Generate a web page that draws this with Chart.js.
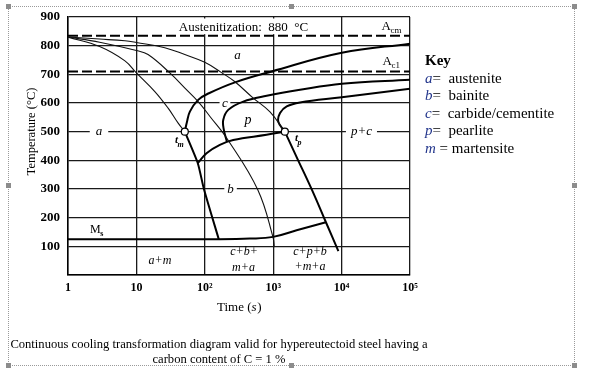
<!DOCTYPE html>
<html><head><meta charset="utf-8">
<script src="https://cdn.jsdelivr.net/npm/chart.js@4.4.1/dist/chart.umd.min.js"></script>
<style>
html,body{margin:0;padding:0;background:#fff;}
#wrap{position:relative;width:590px;height:373px;overflow:hidden;font-family:"Liberation Serif","Times New Roman",serif;color:#000;}
#c{position:absolute;left:0;top:0;}
#frame{position:absolute;left:8px;top:6px;width:567px;height:360px;border:1px dotted #9a9a9a;box-sizing:border-box;}
.h{position:absolute;width:5px;height:5px;background:#8c8c8c;}
#key{position:absolute;left:425px;top:52px;font-size:15px;line-height:17.5px;white-space:nowrap;}
#key i{color:#23368c;}
#cap{position:absolute;left:8px;top:337px;width:422px;text-align:center;font-size:12.6px;line-height:15px;white-space:nowrap;}
</style></head>
<body>
<div id="wrap">
<canvas id="c" width="590" height="373"></canvas>
<div id="frame"></div>
<div class="h" style="left:6px;top:4px"></div>
<div class="h" style="left:289px;top:4px"></div>
<div class="h" style="left:572px;top:4px"></div>
<div class="h" style="left:6px;top:183px"></div>
<div class="h" style="left:572px;top:183px"></div>
<div class="h" style="left:6px;top:363px"></div>
<div class="h" style="left:289px;top:363px"></div>
<div class="h" style="left:572px;top:363px"></div>
<div id="key"><b>Key</b><br><i>a</i>=&nbsp; austenite<br><i>b</i>=&nbsp; bainite<br><i>c</i>=&nbsp; carbide/cementite<br><i>p</i>=&nbsp; pearlite<br><i>m</i> = martensite</div>
<div id="cap">Continuous cooling transformation diagram valid for hypereutectoid steel having a<br>carbon content of C = 1 %</div>
</div>
<script>
// ---- axis ticks ----
const xTicks = [1, 10, 100, 1000, 10000, 100000];
const xTickLabels = ['1', '10', '10²', '10³', '10⁴', '10⁵'];
const yMin = 0, yMax = 900, yStep = 100;

// ---- cooling curves: time (s) / temperature (°C) ----
const coolFastTime = [1, 2.9, 6.8, 10, 18.6, 29.1, 40.8, 51];
const coolFastTemp = [830, 797, 747, 705, 640, 582, 530, 500];
const coolMidTime = [1, 2.9, 10, 14.8, 30.8, 51.2, 80, 119, 218, 599, 993, 1038];
const coolMidTemp = [830, 812, 783, 769, 705, 652, 605, 553, 471, 296, 132, 97];
const coolSlowTime = [1, 2.9, 6.8, 10, 26, 51, 100, 176, 276, 506, 898, 1480];
const coolSlowTemp = [830, 823, 817, 811, 793, 769, 742, 706, 674, 618, 569, 500];

// ---- transformation lines ----
const martLineTime = [51, 79, 97, 160];
const martLineTemp = [500, 390, 300, 125];
const pearLineTime = [1480, 2307, 3700, 5900, 8970];
const pearLineTemp = [500, 401, 296, 184, 83];
const msTime = [1, 160, 457, 1000, 2200, 5900];
const msTemp = [125, 125, 127, 133, 156, 184];
const bainiteTime = [79, 106, 166, 260, 800, 1480];
const bainiteTemp = [390, 425, 454, 471, 489, 500];
const carbideTime = [51, 54.7, 60.5, 80, 115, 276, 950, 10070, 100000];
const carbideTemp = [500, 533, 570, 611, 634, 672, 710, 775, 807];
const pearliteStartTime = [211, 190, 186, 220, 365, 803, 2467, 10070, 100000];
const pearliteStartTemp = [464, 506, 541, 576, 605, 625, 646, 667, 681];
const pearliteEndTime = [1480, 1188, 1259, 1577, 2467, 10070, 100000];
const pearliteEndTemp = [500, 535, 565, 588, 602, 620, 650];
const acmTemp = 835, ac1Temp = 710;
const criticalTime = [51, 1480];   // t_m, t_p
const criticalTemp = [500, 500];

function pts(ts, Ts) { return ts.map((t, i) => ({x: t, y: Ts[i]})); }
function hline(T) { return [{x: xTicks[0], y: T}, {x: xTicks[xTicks.length - 1], y: T}]; }

const SERIF = '"Liberation Serif", "Times New Roman", serif';
Chart.defaults.font.family = SERIF;
Chart.defaults.color = '#000';

const thin = {borderColor: '#111', borderWidth: 1.1, pointRadius: 0, showLine: true, fill: false, tension: 0.4};
const thick = {borderColor: '#000', borderWidth: 2, pointRadius: 0, showLine: true, fill: false, tension: 0.4};
const dashed = {borderColor: '#000', borderWidth: 2, pointRadius: 0, showLine: true, fill: false, borderDash: [10, 4], tension: 0};

// annotation text (positions in data units)
const boxLabels = [
  {text: 'a', t: 2.84, T: 500, pad: 6},
  {text: 'c', t: 197, T: 600, pad: 2.5},
  {text: 'b', t: 238, T: 300, pad: 3},
  {text: 'p+c', t: 19500, T: 500, pad: 5}
];
const plainLabels = [
  {text: 'a', t: 301, T: 767, size: 13},
  {text: 'p', t: 428, T: 540, size: 14},
  {text: 'a+m', t: 22.1, T: 52, size: 12},
  {text: 'c+b+', t: 374, T: 84, size: 12},
  {text: 'm+a', t: 368, T: 28, size: 12},
  {text: 'c+p+b', t: 3450, T: 81, size: 12},
  {text: '+m+a', t: 3450, T: 31, size: 12}
];
const subLabels = [
  {main: 't', sub: 'm', t: 36.7, T: 460, mf: 'bold italic 11px ' + SERIF, sf: 'bold italic 8px ' + SERIF, align: 'left', dy: 4},
  {main: 't', sub: 'p', t: 2083, T: 467, mf: 'bold italic 11px ' + SERIF, sf: 'bold italic 8px ' + SERIF, align: 'left', dy: 4},
  {main: 'M', sub: 's', t: 2.1, T: 146.5, mf: '12px ' + SERIF, sf: 'bold 8px ' + SERIF, align: 'left', dy: 3},
  {main: 'A', sub: 'cm', t: 76400, T: 853, mf: '13px ' + SERIF, sf: '9px ' + SERIF, align: 'right', dy: 3},
  {main: 'A', sub: 'c1', t: 72600, T: 732, mf: '13px ' + SERIF, sf: '9px ' + SERIF, align: 'right', dy: 3}
];
const titleText = 'Austenitization:  880  °C';
const titlePos = {t: 368, T: 868};

const annot = {
  id: 'annot',
  beforeDatasetsDraw(chart) {
    const {ctx, scales: {x, y}} = chart;
    ctx.save();
    ctx.font = '13px ' + SERIF;
    const tw = ctx.measureText(titleText).width;
    const tx = x.getPixelForValue(titlePos.t), ty = y.getPixelForValue(titlePos.T);
    ctx.fillStyle = '#fff';
    ctx.fillRect(tx - tw / 2 - 3, y.top + 1.5, tw + 6, ty + 8 - (y.top + 1.5));
    ctx.fillStyle = '#000';
    ctx.textAlign = 'center';
    ctx.textBaseline = 'alphabetic';
    ctx.fillText(titleText, tx, ty + 4.5);
    ctx.font = 'italic 13px ' + SERIF;
    boxLabels.forEach(l => {
      const w = ctx.measureText(l.text).width;
      const px = x.getPixelForValue(l.t), py = y.getPixelForValue(l.T);
      ctx.fillStyle = '#fff';
      ctx.fillRect(px - w / 2 - l.pad, py - 3, w + 2 * l.pad, 6);
      ctx.fillStyle = '#000';
      ctx.fillText(l.text, px, py + 3.5);
    });
    ctx.restore();
  },
  afterDatasetsDraw(chart) {
    const {ctx, scales: {x, y}} = chart;
    ctx.save();
    ctx.fillStyle = '#000';
    ctx.textBaseline = 'alphabetic';
    ctx.textAlign = 'center';
    plainLabels.forEach(l => {
      ctx.font = 'italic ' + l.size + 'px ' + SERIF;
      ctx.fillText(l.text, x.getPixelForValue(l.t), y.getPixelForValue(l.T) + l.size * 0.3);
    });
    ctx.textAlign = 'left';
    subLabels.forEach(l => {
      ctx.font = l.mf;
      const mw = ctx.measureText(l.main).width;
      ctx.font = l.sf;
      const sw = ctx.measureText(l.sub).width;
      let px = x.getPixelForValue(l.t);
      const py = y.getPixelForValue(l.T);
      if (l.align === 'right') px -= (mw + sw);
      ctx.font = l.mf;
      ctx.fillText(l.main, px, py);
      ctx.font = l.sf;
      ctx.fillText(l.sub, px + mw - 0.5, py + l.dy);
    });
    ctx.restore();
  },
  afterDraw(chart) {
    const {ctx, chartArea} = chart;
    ctx.save();
    ctx.fillStyle = '#000';
    ctx.textBaseline = 'alphabetic';
    const f1 = '13px ' + SERIF, f2 = 'italic 13px ' + SERIF;
    ctx.font = f1; const w1 = ctx.measureText('Time (').width; const w3 = ctx.measureText(')').width;
    ctx.font = f2; const w2 = ctx.measureText('s').width;
    let sx = (chartArea.left + chartArea.right) / 2 - (w1 + w2 + w3) / 2;
    const by = 310.5;
    ctx.textAlign = 'left';
    ctx.font = f1; ctx.fillText('Time (', sx, by);
    ctx.font = f2; ctx.fillText('s', sx + w1, by);
    ctx.font = f1; ctx.fillText(')', sx + w1 + w2 + 0.5, by);
    ctx.translate(31.5, 131.5);
    ctx.rotate(-Math.PI / 2);
    ctx.textAlign = 'center';
    ctx.textBaseline = 'middle';
    ctx.font = '12.5px ' + SERIF;
    ctx.fillText('Temperature (°C)', 0, 0);
    ctx.restore();
  }
};

new Chart(document.getElementById('c'), {
  type: 'scatter',
  data: {
    datasets: [
      {data: pts(criticalTime, criticalTemp), pointRadius: 3.5, pointBackgroundColor: '#fff', pointBorderColor: '#000', pointBorderWidth: 1.2, showLine: false},
      {...thin, data: pts(coolFastTime, coolFastTemp)},
      {...thin, data: pts(coolMidTime, coolMidTemp)},
      {...thin, data: pts(coolSlowTime, coolSlowTemp)},
      {...thick, tension: 0.2, data: pts(martLineTime, martLineTemp)},
      {...thick, data: pts(pearLineTime, pearLineTemp)},
      {...thick, data: pts(msTime, msTemp)},
      {...thick, data: pts(bainiteTime, bainiteTemp)},
      {...thick, data: pts(carbideTime, carbideTemp)},
      {...thick, data: pts(pearliteStartTime, pearliteStartTemp)},
      {...thick, data: pts(pearliteEndTime, pearliteEndTemp)},
      {...dashed, data: hline(acmTemp)},
      {...dashed, data: hline(ac1Temp)}
    ]
  },
  options: {
    responsive: false,
    animation: false,
    events: [],
    layout: {padding: {left: 0, right: 180, top: 17, bottom: 0}},
    plugins: {legend: {display: false}, tooltip: {enabled: false}},
    scales: {
      x: {
        type: 'logarithmic',
        min: xTicks[0], max: xTicks[xTicks.length - 1],
        afterBuildTicks: s => { s.ticks = xTicks.map(v => ({value: v})); },
        afterFit: s => { s.height = 98; },
        ticks: {
          autoSkip: false, maxRotation: 0, padding: 6,
          font: {size: 12, weight: 'bold', family: SERIF}, color: '#000',
          callback: v => { const i = xTicks.indexOf(v); return i >= 0 ? xTickLabels[i] : ''; }
        },
        grid: {color: '#1a1a1a', lineWidth: 1.3, drawTicks: false},
        border: {color: '#000', width: 1.5}
      },
      y: {
        min: yMin, max: yMax,
        afterFit: s => { s.width = 68; },
        ticks: {
          stepSize: yStep, padding: 8,
          font: {size: 13, weight: 'bold', family: SERIF}, color: '#000',
          callback: v => (v === 0 ? '' : String(v))
        },
        grid: {color: '#1a1a1a', lineWidth: 1.3, drawTicks: false},
        border: {color: '#000', width: 1.5}
      }
    }
  },
  plugins: [annot]
});
</script>
</body></html>
